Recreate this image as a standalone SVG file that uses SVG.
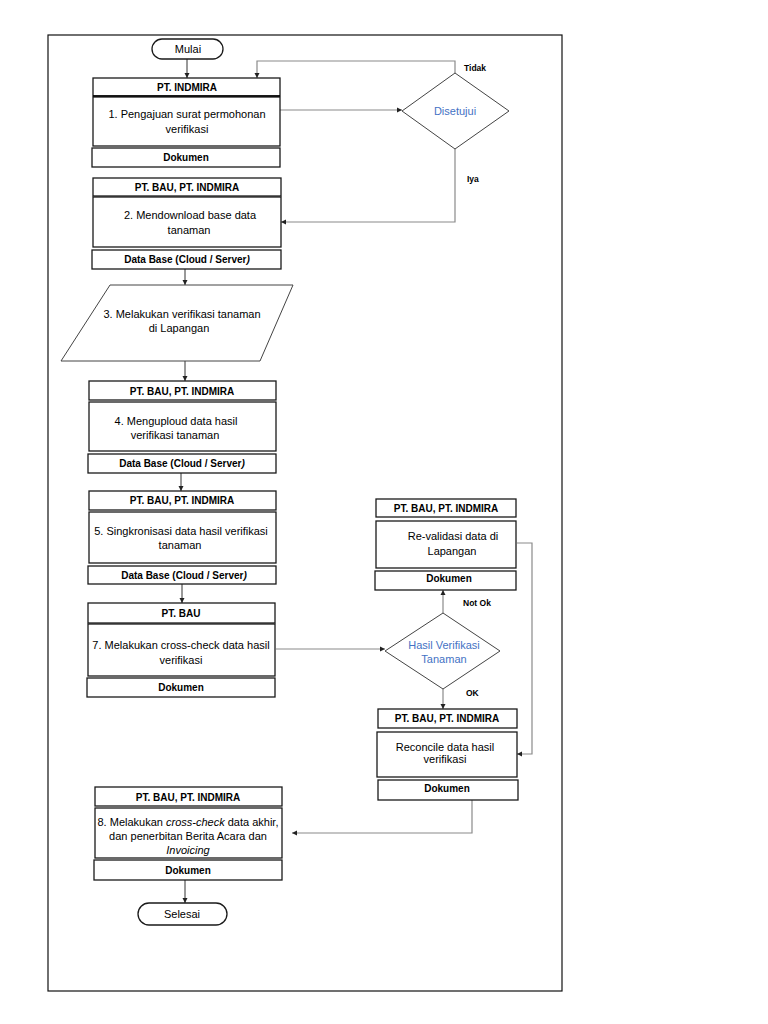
<svg xmlns="http://www.w3.org/2000/svg" width="768" height="1024" viewBox="0 0 768 1024">
<defs>
<style>
.bx{fill:#fff;stroke:#1a1a1a;stroke-width:1.3}
.hd{font-family:"Liberation Sans",Arial,sans-serif;font-size:10px;font-weight:bold;fill:#000;text-anchor:middle}
.tx{font-family:"Liberation Sans",Arial,sans-serif;font-size:11px;fill:#000;text-anchor:middle}
.dt{font-family:"Liberation Sans",Arial,sans-serif;font-size:11px;fill:#4472C4;text-anchor:middle}
.lb{font-family:"Liberation Sans",Arial,sans-serif;font-size:8.5px;font-weight:bold;fill:#000}
.cn{fill:none;stroke:#8a8a8a;stroke-width:1.2}
.cd{fill:none;stroke:#333;stroke-width:1}
</style>
<marker id="ah" markerWidth="6" markerHeight="6" refX="5" refY="3" orient="auto" markerUnits="userSpaceOnUse">
<path d="M0,0.5 L5,3 L0,5.5 Z" fill="#222"/>
</marker>
</defs>
<rect width="768" height="1024" fill="#fff"/>
<rect id="frame" x="48" y="35" width="514" height="956" fill="none" stroke="#111" stroke-width="1.2"/>

<g id="connectors">
<path class="cd" d="M187,59 V78" marker-end="url(#ah)"/>
<path class="cn" d="M280,110 H402" marker-end="url(#ah)"/>
<path class="cn" d="M455,73 V61 H257 V78" marker-end="url(#ah)"/>
<path class="cn" d="M455,149 V222 H281" marker-end="url(#ah)"/>
<path class="cd" d="M185,269 V285" marker-end="url(#ah)"/>
<path class="cd" d="M185,361 V381" marker-end="url(#ah)"/>
<path class="cd" d="M181,473 V491" marker-end="url(#ah)"/>
<path class="cd" d="M182,584 V603" marker-end="url(#ah)"/>
<path class="cn" d="M276,649 H385" marker-end="url(#ah)"/>
<path class="cn" d="M443,613 V590" marker-end="url(#ah)"/>
<path class="cn" d="M443,689 V709" marker-end="url(#ah)"/>
<path class="cn" d="M517,543 H532 V754 H517" marker-end="url(#ah)"/>
<path class="cn" d="M472,800 V833 H292" marker-end="url(#ah)"/>
<path class="cd" d="M185,880 V903" marker-end="url(#ah)"/>
</g>

<g id="mulai">
<rect class="bx" x="152" y="39" width="71" height="20" rx="10" ry="10"/>
<text class="tx" x="188" y="53">Mulai</text>
</g>

<g id="step1">
<rect class="bx" x="93" y="78" width="187" height="18"/>
<line x1="93" y1="96.5" x2="280" y2="96.5" stroke="#000" stroke-width="2.5"/>
<text class="hd" x="187" y="91">PT. INDMIRA</text>
<rect class="bx" x="93" y="97" width="187" height="49"/>
<text class="tx" x="187" y="118">1. Pengajuan surat permohonan</text>
<text class="tx" x="187" y="133">verifikasi</text>
<rect class="bx" x="92" y="148" width="188" height="19"/>
<text class="hd" x="186" y="161">Dokumen</text>
</g>

<g id="disetujui">
<polygon class="bx" points="455,73 509,111 455,149 402,111" style="stroke:#444;stroke-width:1"/>
<text class="dt" x="455" y="115">Disetujui</text>
<text class="lb" x="464" y="71">Tidak</text>
<text class="lb" x="467" y="182">Iya</text>
</g>

<g id="step2">
<rect class="bx" x="93" y="178" width="188" height="18"/>
<text class="hd" x="187" y="191">PT. BAU, PT. INDMIRA</text>
<rect class="bx" x="93" y="197" width="188" height="50"/>
<text class="tx" x="190" y="219">2. Mendownload base data</text>
<text class="tx" x="189" y="234">tanaman</text>
<rect class="bx" x="92" y="250" width="189" height="19"/>
<text class="hd" x="187" y="263">Data Base (Cloud / Server<tspan font-style="italic">)</tspan></text>
</g>

<g id="step3">
<polygon class="bx" points="110,285 293,285 260,361 61,361" style="stroke:#444;stroke-width:1"/>
<text class="tx" x="182" y="318">3. Melakukan verifikasi tanaman</text>
<text class="tx" x="179" y="332">di Lapangan</text>
</g>

<g id="step4">
<rect class="bx" x="89" y="381" width="187" height="19"/>
<text class="hd" x="182" y="395">PT. BAU, PT. INDMIRA</text>
<rect class="bx" x="89" y="402" width="187" height="49"/>
<text class="tx" x="176" y="425">4. Menguploud data hasil</text>
<text class="tx" x="175" y="439">verifikasi tanaman</text>
<rect class="bx" x="88" y="454" width="188" height="19"/>
<text class="hd" x="182" y="467">Data Base (Cloud / Server<tspan font-style="italic">)</tspan></text>
</g>

<g id="step5">
<rect class="bx" x="89" y="491" width="187" height="19"/>
<text class="hd" x="182" y="504">PT. BAU, PT. INDMIRA</text>
<rect class="bx" x="89" y="512" width="187" height="51"/>
<text class="tx" x="181" y="535">5. Singkronisasi data hasil verifikasi</text>
<text class="tx" x="180" y="549">tanaman</text>
<rect class="bx" x="88" y="566" width="188" height="18"/>
<text class="hd" x="184" y="579">Data Base (Cloud / Server<tspan font-style="italic">)</tspan></text>
</g>

<g id="step7">
<rect class="bx" x="88" y="603" width="187" height="20"/>
<text class="hd" x="181" y="617">PT. BAU</text>
<rect class="bx" x="88" y="624" width="187" height="52"/>
<text class="tx" x="181" y="649">7. Melakukan cross-check data hasil</text>
<text class="tx" x="181" y="664">verifikasi</text>
<rect class="bx" x="87" y="678" width="188" height="19"/>
<text class="hd" x="181" y="691">Dokumen</text>
</g>

<g id="hasil">
<polygon class="bx" points="443,613 500,651 443,689 385,651" style="stroke:#444;stroke-width:1"/>
<text class="dt" x="444" y="649">Hasil Verifikasi</text>
<text class="dt" x="444" y="663">Tanaman</text>
<text class="lb" x="463" y="606">Not Ok</text>
<text class="lb" x="466" y="696">OK</text>
</g>

<g id="revalidasi">
<rect class="bx" x="376" y="499" width="140" height="18"/>
<text class="hd" x="446" y="512">PT. BAU, PT. INDMIRA</text>
<rect class="bx" x="376" y="521" width="140" height="47"/>
<text class="tx" x="453" y="540">Re-validasi data di</text>
<text class="tx" x="452" y="555">Lapangan</text>
<rect class="bx" x="375" y="571" width="141" height="19"/>
<text class="hd" x="449" y="582">Dokumen</text>
</g>

<g id="reconcile">
<rect class="bx" x="378" y="709" width="139" height="19"/>
<text class="hd" x="447" y="722">PT. BAU, PT. INDMIRA</text>
<rect class="bx" x="377" y="732" width="140" height="45"/>
<text class="tx" x="445" y="751">Reconcile data hasil</text>
<text class="tx" x="445" y="763">verifikasi</text>
<rect class="bx" x="378" y="780" width="140" height="20"/>
<text class="hd" x="447" y="792">Dokumen</text>
</g>

<g id="step8">
<rect class="bx" x="95" y="787" width="187" height="19"/>
<text class="hd" x="188" y="801">PT. BAU, PT. INDMIRA</text>
<rect class="bx" x="95" y="808" width="187" height="50"/>
<text class="tx" x="188" y="826">8. Melakukan <tspan font-style="italic">cross-check</tspan> data akhir,</text>
<text class="tx" x="188" y="840">dan penerbitan Berita Acara dan</text>
<text class="tx" x="188" y="854" font-style="italic">Invoicing</text>
<rect class="bx" x="94" y="860" width="188" height="20"/>
<text class="hd" x="188" y="874">Dokumen</text>
</g>

<g id="selesai">
<rect class="bx" x="138" y="903" width="89" height="22" rx="11" ry="11"/>
<text class="tx" x="182" y="918">Selesai</text>
</g>
</svg>
